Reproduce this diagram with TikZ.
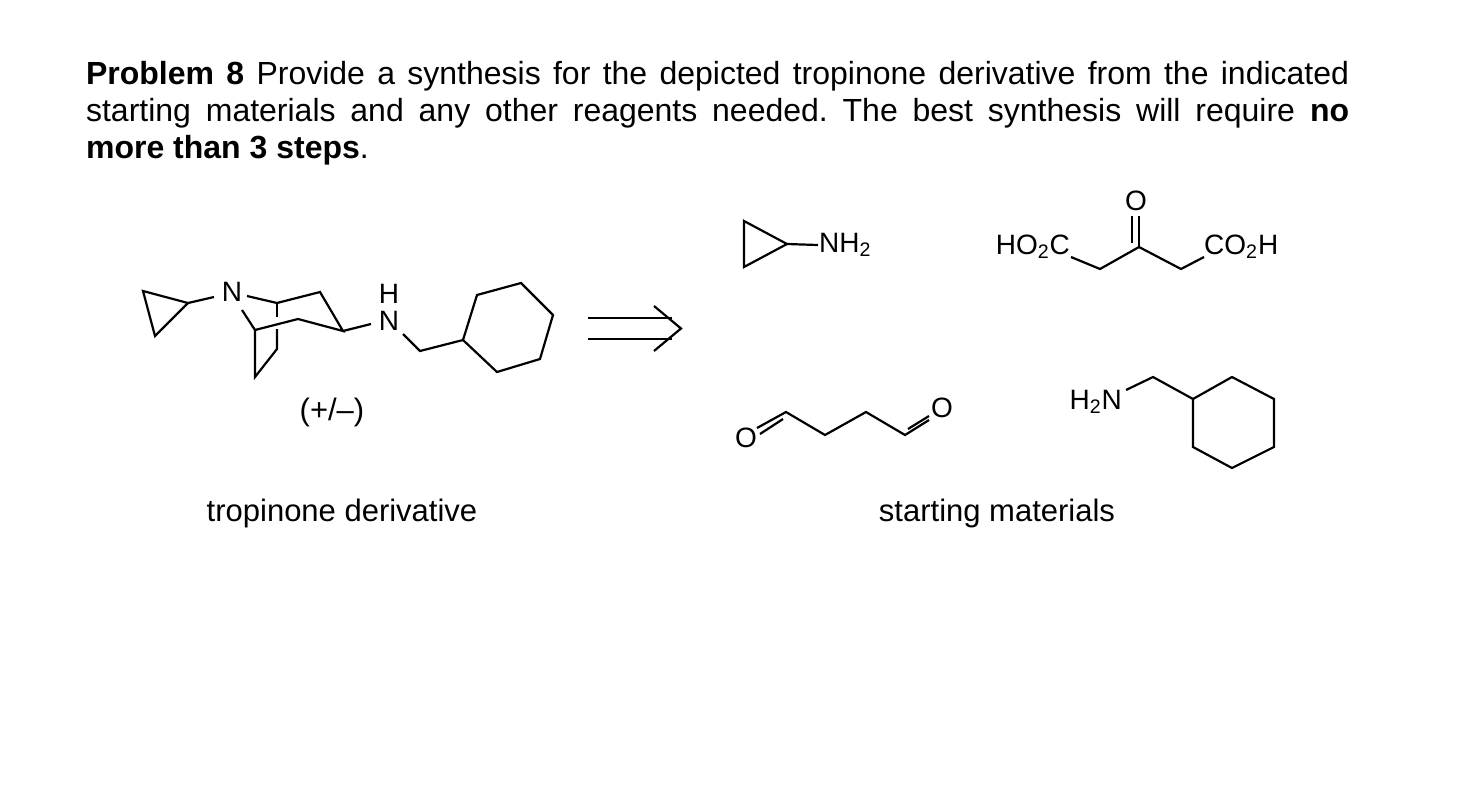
\documentclass[tikz,border=0pt]{standalone}
\usepackage{fontspec}
\setmainfont{Liberation Sans}
\begin{document}
\begin{tikzpicture}[x=0.5pt,y=-0.5pt,line width=1.1pt,
  atom/.style={inner sep=0pt,font=\fontsize{14}{16}\selectfont},
  lbl/.style={inner sep=0pt,font=\fontsize{15.5}{18}\selectfont},
  para/.style={anchor=base west,inner sep=0pt,font=\fontsize{16}{19}\selectfont},
  bond/.style={line width=1.1pt}]
\useasboundingbox (0,0) rectangle (1472,798);
% paragraph
\node[para] (l1) at (85,84) {\makebox[631.5pt][s]{\textbf{Problem 8} Provide a synthesis for the depicted tropinone derivative from the indicated}};
\node[para] (l2) at (85,121) {\makebox[631.5pt][s]{starting materials and any other reagents needed.\ The best synthesis will require \textbf{no}}};
\node[para] (l3) at (85,158) {\textbf{more than 3 steps}.};
% tropinone derivative
\coordinate (p1) at (143,291); \coordinate (p2) at (155,336); \coordinate (p3) at (188,303);
\draw[bond] (p1)--(p2)--(p3)--cycle;
\node[atom] (N1) at (232,292) {N};
\coordinate (c1) at (277,303); \coordinate (c2) at (320,292); \coordinate (c3) at (343,331);
\coordinate (c4) at (298,319); \coordinate (c5) at (255,330);
\coordinate (c6) at (255,377); \coordinate (c7) at (277,349);
\draw[bond] (p3)--(214,297);
\draw[bond] (247,296)--(c1)--(c2)--(c3)--(c4)--(c5);
\draw[bond] (242,310)--(c5)--(c6)--(c7)--(277,329);
\draw[bond] (c1)--(277,317);
\node[atom] (N2) at (389,321) {N};
\node[atom] (H2) at (389,294) {H};
\draw[bond] (c3)--(371,324);
\coordinate (m1) at (420,351);
\coordinate (h1) at (463,340); \coordinate (h2) at (477,295); \coordinate (h3) at (521,283);
\coordinate (h4) at (553,315); \coordinate (h5) at (540,359); \coordinate (h6) at (497,372);
\draw[bond] (403,334)--(m1)--(h1);
\draw[bond] (h1)--(h2)--(h3)--(h4)--(h5)--(h6)--cycle;
\node[lbl] (pm) at (332,412) {(+/--)};
\node[lbl] (td) at (342,513) {tropinone derivative};
% retro arrow
\coordinate (a1) at (588,318); \coordinate (a2) at (588,339);
\coordinate (tip) at (681,328.5);
\draw[bond] (a1)--(672,318); \draw[bond] (a2)--(672,339);
\draw[bond,line join=miter] (654,306)--(tip)--(654,351);
% cyclopropylamine
\coordinate (q1) at (744,221); \coordinate (q2) at (744,267); \coordinate (q3) at (787,244);
\draw[bond] (q1)--(q2)--(q3)--cycle;
\node[atom,anchor=west] (NH2) at (818,245) {NH\textsubscript{2}};
\draw[bond] (q3)--(NH2.west);
% acetonedicarboxylic acid
\node[atom,anchor=east] (ac1) at (1071,247) {HO\textsubscript{2}C};
\node[atom,anchor=west] (ac2) at (1203,247) {CO\textsubscript{2}H};
\node[atom] (O1) at (1136,201) {O};
\coordinate (k1) at (1100,269); \coordinate (k2) at (1139,247); \coordinate (k3) at (1181,269);
\draw[bond] (1071,257)--(k1)--(k2)--(k3)--(1204,257);
\draw[bond] (k2)--(1139,216); \draw[bond] (1132,243)--(1132,216);
% succinaldehyde
\node[atom] (O2) at (746,438) {O};
\node[atom] (O3) at (942,408) {O};
\coordinate (d1) at (786,412); \coordinate (d2) at (825,435); \coordinate (d3) at (866,412); \coordinate (d4) at (905,435);
\draw[bond] (757,428)--(d1)--(d2)--(d3)--(d4)--(929,420);
\draw[bond] (760,434)--(783,419);
\draw[bond] (908,429)--(929,416);
% cyclohexylmethylamine
\node[atom,anchor=east] (H2N) at (1123,402) {H\textsubscript{2}N};
\coordinate (e1) at (1153,377);
\coordinate (g1) at (1193,399); \coordinate (g2) at (1232,377); \coordinate (g3) at (1274,399);
\coordinate (g4) at (1274,447); \coordinate (g5) at (1232,468); \coordinate (g6) at (1193,447);
\draw[bond] (1126,390)--(e1)--(g1);
\draw[bond] (g1)--(g2)--(g3)--(g4)--(g5)--(g6)--cycle;
\node[lbl] (sm) at (997,513) {starting materials};
\end{tikzpicture}
\end{document}
